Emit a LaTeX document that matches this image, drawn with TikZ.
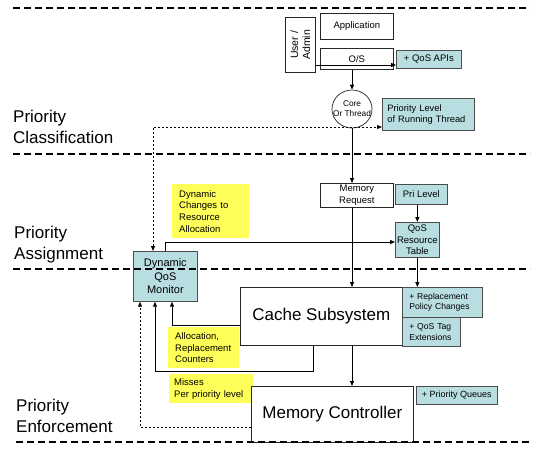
\documentclass[tikz,border=0pt]{standalone}
\usepackage{fontspec}
\setmainfont{Liberation Sans}
\usetikzlibrary{arrows.meta,shapes.geometric}
\definecolor{tealbox}{RGB}{185,222,226}
\definecolor{yelbox}{RGB}{255,255,90}
\begin{document}
\begin{tikzpicture}[x=1pt,y=-1pt,
 box/.style={draw=black!85, line width=0.7pt, fill=white, inner sep=1pt, anchor=north west, align=center},
 tbox/.style={box, fill=tealbox, draw=black!70},
 ybox/.style={fill=yelbox, inner ysep=0pt, inner xsep=7pt, anchor=north west, align=left},
 arr/.style={line width=0.8pt, -{Triangle[length=5pt,width=4pt]}},
 darr/.style={arr, dash pattern=on 2.5pt off 1.5pt},
 ddarr/.style={line width=0.8pt, dash pattern=on 2.5pt off 1.5pt, {Triangle[length=5pt,width=4pt]}-{Triangle[length=5pt,width=4pt]}},
 sep/.style={line width=1.2pt, dash pattern=on 7pt off 4pt},
 sm/.style={font=\fontsize{9.5}{11.7}\selectfont},
 xs/.style={font=\fontsize{8.6}{10.7}\selectfont},
 big/.style={font=\fontsize{17}{21}\selectfont}]
\useasboundingbox[fill=white] (0,0) rectangle (540,455);

% left labels
\node[big, anchor=north west, inner sep=0, align=left] (lab1) at (13,110) {Priority\\Classification};
\node[big, anchor=north west, inner sep=0, align=left] (lab2) at (14,226) {Priority\\Assignment};
\node[big, anchor=north west, inner sep=0, align=left] (lab3) at (16,399) {Priority\\Enforcement};

% top part
\node[box, minimum width=30, minimum height=55, sm] (user) at (285,17) {};
\node[font=\fontsize{10.5}{12}\selectfont, rotate=90, align=center, inner sep=0] (usertext) at (user.center) {User /\\Admin};
\node[box, minimum width=73, minimum height=26, sm] (app) at (320,13) {Application};
\node[box, minimum width=73, minimum height=21, sm] (os) at (320,48) {O/S};
\node[tbox, minimum width=65, minimum height=18, sm] (qosapi) at (396,50) {+ QoS APIs};
\node[draw=black!85, line width=0.7pt, fill=white, ellipse, minimum width=40, minimum height=38, inner sep=0] (core) at (352,109) {};
\node[align=center, inner sep=0, font=\fontsize{8.3}{10}\selectfont] (coretext) at (core.center) {Core\\Or Thread};
\node[tbox, minimum width=92, minimum height=32, font=\fontsize{9.3}{11.5}\selectfont, align=left, text width=82, inner xsep=5pt] (prithread) at (382,98) {Priority Level\\of Running Thread};

% middle part
\node[box, minimum width=73, minimum height=24, sm] (memreq) at (320,183) {Memory\\Request};
\node[tbox, minimum width=52, minimum height=20, sm] (prilevel) at (395,184) {Pri Level};
\node[tbox, minimum width=44, minimum height=35, sm] (qostable) at (395,222) {QoS\\Resource\\Table};
\node[ybox, minimum height=54, text width=63, sm] (ychg) at (172,184) {Dynamic\\Changes to\\Resource\\Allocation};
\node[tbox, minimum width=64, minimum height=50, font=\fontsize{11}{13.7}\selectfont] (monitor) at (133,251) {Dynamic\\QoS\\Monitor};

% lower part
\node[box, minimum width=162, minimum height=58, big] (cache) at (240,287) {Cache Subsystem};
\node[tbox, minimum width=80, minimum height=30, xs, align=left, text width=66, inner xsep=7pt] (replpol) at (402,287) {+ Replacement\\Policy Changes};
\node[tbox, minimum width=58, minimum height=29, xs, align=left, text width=44, inner xsep=7pt] (qostag) at (402,317) {+ QoS Tag\\Extensions};
\node[ybox, minimum height=41, text width=57, sm] (ycnt) at (168,327) {Allocation,\\Replacement\\Counters};
\node[ybox, minimum height=29, text width=74, inner xsep=5pt, sm] (ymiss) at (169,374) {Misses\\Per priority level};
\node[box, minimum width=162, minimum height=56, big] (memctrl) at (251,386) {Memory Controller};
\node[tbox, minimum width=81, minimum height=18, font=\fontsize{9}{11}\selectfont] (prique) at (416,386) {+ Priority Queues};

% connectors
\draw[arr] (user.east |- 0,65) -- (qosapi.west |- 0,65);
\draw[arr] (os.south -| core.north) -- (core.north);
\draw[arr] (core.south) -- (core.south |- memreq.north);
\draw[arr] (memreq.south -| core.south) -- (cache.north -| core.south);
\draw[arr] (prilevel.south -| qostable.north) -- (qostable.north);
\draw[arr] (qostable.south) -- (qostable.south |- replpol.north);
\draw[arr] (monitor.north -| 165,0) |- (qostable.west |- 0,242);
\draw[ddarr] (monitor.north -| 153,0) |- (prithread.west |- 0,127);
\draw[arr] (cache.west |- 0,325) -| (monitor.south -| 172,0);
\draw[arr] (cache.south -| 313,0) -- ++(0,26) -| (monitor.south -| 155,0);
\draw[darr] (memctrl.west |- 0,427) -| (monitor.south -| 140,0);
\draw[arr] (cache.south -| core.south) -- (memctrl.north -| core.south);

% separators
\draw[sep] (13,8) -- (530,8);
\draw[sep] (13,154) -- (530,154);
\draw[sep] (13,269) -- (530,269);
\draw[sep] (16,442) -- (530,442);
\end{tikzpicture}
\end{document}
